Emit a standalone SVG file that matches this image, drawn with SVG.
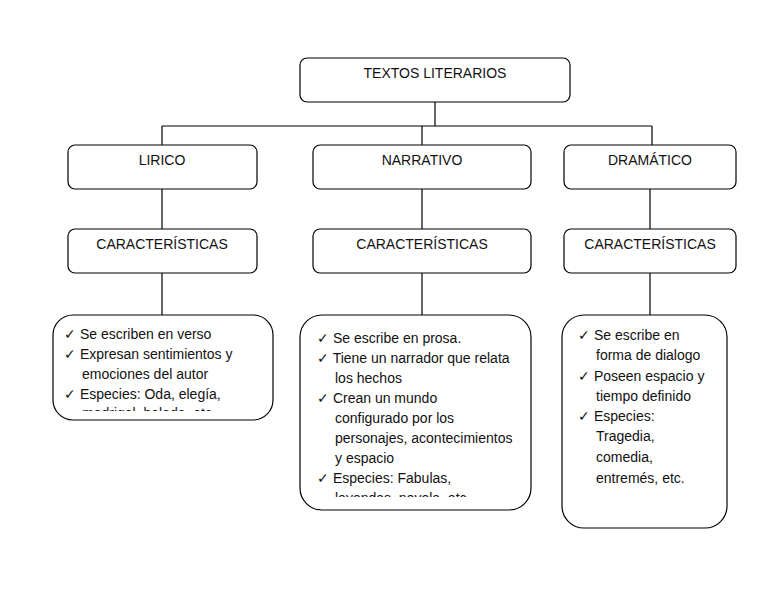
<svg xmlns="http://www.w3.org/2000/svg" width="768" height="594" viewBox="0 0 768 594">
<style>
.b{fill:#fff;stroke:#000;stroke-width:1.2}
.t{font-family:"Liberation Sans",Arial,sans-serif;font-size:14px;fill:#111}
.h{text-anchor:middle}
.c line{stroke:#000;stroke-width:1.2}
</style>
<defs>
<clipPath id="cl"><rect x="53" y="315" width="220" height="96"/></clipPath>
<clipPath id="cm"><rect x="300" y="315" width="231" height="182"/></clipPath>
</defs>
<rect width="768" height="594" fill="#fff"/>
<g class="c">
<line x1="435" y1="102" x2="435" y2="126"/>
<line x1="162" y1="126" x2="652" y2="126"/>
<line x1="162" y1="126" x2="162" y2="145"/>
<line x1="422" y1="126" x2="422" y2="145"/>
<line x1="652" y1="126" x2="652" y2="145"/>
<line x1="162" y1="189" x2="162" y2="229"/>
<line x1="422" y1="189" x2="422" y2="229"/>
<line x1="650" y1="189" x2="650" y2="229"/>
<line x1="162" y1="273" x2="162" y2="315"/>
<line x1="422" y1="273" x2="422" y2="315"/>
<line x1="650" y1="273" x2="650" y2="315"/>
</g>
<g id="root"><rect class="b" x="300" y="58" width="270" height="44" rx="7"/><text class="t h" x="435" y="78">TEXTOS  LITERARIOS</text></g>
<g id="lirico"><rect class="b" x="68" y="145" width="189" height="44" rx="7"/><text class="t h" x="162" y="165">LIRICO</text></g>
<g id="narrativo"><rect class="b" x="313" y="145" width="218" height="44" rx="7"/><text class="t h" x="422" y="165">NARRATIVO</text></g>
<g id="dramatico"><rect class="b" x="564" y="145" width="172" height="44" rx="7"/><text class="t h" x="650" y="165">DRAMÁTICO</text></g>
<g id="car1"><rect class="b" x="68" y="229" width="189" height="44" rx="7"/><text class="t h" x="162" y="249">CARACTERÍSTICAS</text></g>
<g id="car2"><rect class="b" x="313" y="229" width="218" height="44" rx="7"/><text class="t h" x="422" y="249">CARACTERÍSTICAS</text></g>
<g id="car3"><rect class="b" x="564" y="229" width="172" height="44" rx="7"/><text class="t h" x="650" y="249">CARACTERÍSTICAS</text></g>
<g id="det1"><rect class="b" x="53" y="315" width="220" height="105" rx="20"/>
<g class="t" clip-path="url(#cl)">
<text x="64" y="339">✓ Se escriben en verso</text>
<text x="64" y="359">✓ Expresan sentimientos y</text>
<text x="82" y="379">emociones del autor</text>
<text x="64" y="399">✓ Especies: Oda, elegía,</text>
<text x="82" y="418">madrigal, balada, etc.</text>
</g></g>
<g id="det2"><rect class="b" x="300" y="315" width="231" height="195" rx="22"/>
<g class="t" clip-path="url(#cm)">
<text x="317" y="343">✓ Se escribe en prosa.</text>
<text x="317" y="363">✓ Tiene un narrador que relata</text>
<text x="335" y="383">los hechos</text>
<text x="317" y="403">✓ Crean un mundo</text>
<text x="335" y="423">configurado por los</text>
<text x="335" y="443">personajes, acontecimientos</text>
<text x="335" y="463">y espacio</text>
<text x="317" y="483">✓ Especies: Fabulas,</text>
<text x="335" y="503">leyendas, novela, etc.</text>
</g></g>
<g id="det3"><rect class="b" x="562" y="315" width="165" height="213" rx="22"/>
<g class="t">
<text x="578" y="340">✓ Se escribe en</text>
<text x="596" y="360">forma de dialogo</text>
<text x="578" y="381">✓ Poseen espacio y</text>
<text x="596" y="401">tiempo definido</text>
<text x="578" y="421">✓ Especies:</text>
<text x="596" y="441">Tragedia,</text>
<text x="596" y="462">comedia,</text>
<text x="596" y="483">entremés, etc.</text>
</g></g>
</svg>
